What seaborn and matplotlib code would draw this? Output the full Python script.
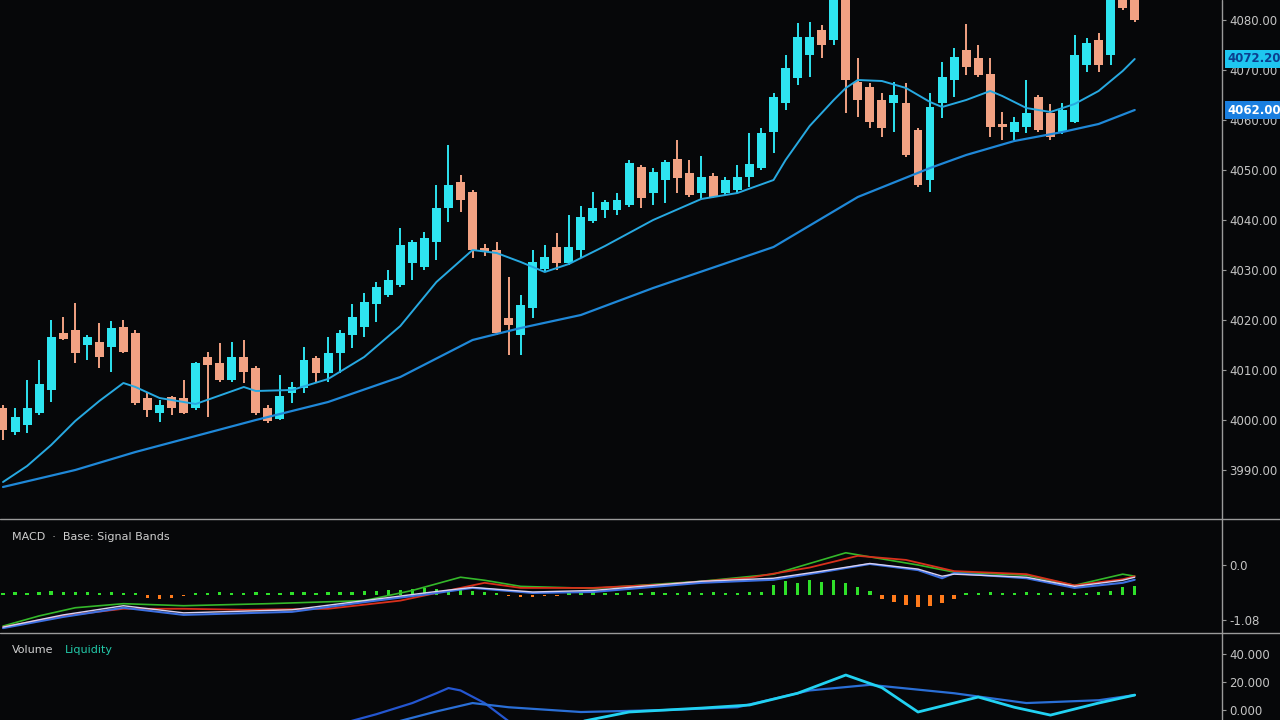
import numpy as np
import pandas as pd
import matplotlib
matplotlib.use("Agg")
import matplotlib.pyplot as plt
import seaborn as sns

# -------------------------------------------------------
# data
# -------------------------------------------------------

opens = [4002.4, 3997.6, 3999.0, 4001.4, 4006.0, 4017.4, 4018.0, 4015.0, 4015.6, 4014.6,
         4018.6, 4017.4, 4004.4, 4001.4, 4004.6, 4004.4, 4002.4, 4012.6, 4011.4, 4008.0,
         4012.6, 4010.4, 4002.4, 4000.2, 4005.4, 4006.4, 4012.4, 4009.4, 4013.4, 4017.0,
         4018.6, 4023.2, 4025.0, 4027.0, 4031.4, 4030.6, 4035.6, 4042.4, 4047.6, 4045.6,
         4034.4, 4034.0, 4020.4, 4017.0, 4022.4, 4030.2, 4034.6, 4031.4, 4034.0, 4039.8,
         4042.0, 4042.0, 4043.0, 4050.6, 4045.4, 4048.0, 4052.2, 4049.4, 4045.4, 4048.8,
         4045.4, 4046.0, 4048.6, 4050.4, 4057.6, 4063.4, 4068.4, 4073.0, 4078.0, 4076.0,
         4086.0, 4067.6, 4066.6, 4064.0, 4063.4, 4063.4, 4058.0, 4048.0, 4063.4, 4068.0,
         4074.0, 4072.4, 4069.2, 4059.0, 4057.6, 4058.6, 4064.6, 4061.4, 4057.6, 4059.6,
         4071.0, 4076.0, 4073.0, 4086.0, 4084.0]
closes = [3998.0, 4000.6, 4002.4, 4007.2, 4016.6, 4016.2, 4013.4, 4016.6, 4012.6, 4018.4,
          4013.6, 4003.4, 4002.0, 4003.0, 4002.4, 4001.4, 4011.4, 4011.0, 4008.0, 4012.6,
          4009.6, 4001.4, 3999.8, 4004.8, 4006.6, 4012.0, 4009.4, 4013.4, 4017.4, 4020.6,
          4023.6, 4026.6, 4028.0, 4035.0, 4035.6, 4036.4, 4042.4, 4047.0, 4044.0, 4034.0,
          4033.6, 4017.4, 4019.0, 4023.0, 4031.6, 4032.6, 4031.4, 4034.6, 4040.6, 4042.4,
          4043.6, 4044.0, 4051.4, 4044.4, 4049.6, 4051.6, 4048.4, 4045.0, 4048.6, 4044.6,
          4048.0, 4048.6, 4051.2, 4057.4, 4064.6, 4070.4, 4076.6, 4076.6, 4075.0, 4086.0,
          4068.0, 4064.0, 4059.6, 4058.4, 4065.0, 4053.0, 4047.0, 4062.6, 4068.6, 4072.6,
          4070.6, 4069.0, 4058.6, 4058.6, 4059.6, 4061.4, 4058.0, 4056.6, 4062.0, 4073.0,
          4075.4, 4071.0, 4085.0, 4082.4, 4080.0]
highs = [4003.0, 4002.4, 4008.0, 4012.0, 4020.0, 4020.6, 4023.4, 4017.0, 4019.4, 4019.8,
         4020.0, 4018.0, 4005.4, 4004.0, 4004.8, 4008.0, 4011.6, 4013.6, 4015.4, 4015.6,
         4016.0, 4010.8, 4003.0, 4009.0, 4007.6, 4014.6, 4012.8, 4016.6, 4018.0, 4023.2,
         4025.4, 4027.6, 4030.0, 4038.4, 4036.0, 4037.6, 4047.0, 4055.0, 4049.0, 4046.0,
         4035.2, 4035.6, 4028.6, 4025.0, 4034.0, 4035.0, 4037.4, 4041.0, 4042.8, 4045.6,
         4044.0, 4045.4, 4052.0, 4051.0, 4050.4, 4052.0, 4056.0, 4052.0, 4052.8, 4049.4,
         4048.6, 4051.0, 4057.4, 4058.4, 4065.4, 4073.0, 4079.4, 4079.6, 4079.0, 4088.0,
         4088.0, 4072.4, 4067.4, 4065.4, 4067.6, 4067.4, 4058.4, 4065.4, 4071.6, 4074.4,
         4079.2, 4075.0, 4072.4, 4061.6, 4060.6, 4068.0, 4065.0, 4063.2, 4063.4, 4077.0,
         4076.4, 4077.4, 4087.0, 4087.0, 4085.0]
lows = [3996.0, 3997.0, 3997.4, 4001.0, 4003.6, 4016.0, 4011.4, 4012.0, 4010.4, 4009.6,
        4013.4, 4003.0, 4000.6, 3999.6, 4001.0, 4001.2, 4002.0, 4000.6, 4007.6, 4007.6,
        4007.4, 4001.0, 3999.4, 4000.0, 4003.4, 4005.4, 4007.6, 4007.6, 4009.4, 4014.4,
        4016.6, 4019.6, 4024.6, 4026.6, 4028.0, 4030.0, 4032.0, 4039.6, 4041.6, 4032.4,
        4032.8, 4017.0, 4013.0, 4013.0, 4020.4, 4029.6, 4030.0, 4031.0, 4032.4, 4039.4,
        4040.4, 4041.0, 4042.6, 4042.4, 4043.0, 4043.4, 4045.4, 4044.6, 4044.0, 4044.4,
        4045.0, 4045.4, 4046.6, 4050.0, 4053.4, 4062.0, 4067.0, 4068.6, 4072.4, 4075.0,
        4061.4, 4060.6, 4058.4, 4056.6, 4057.6, 4052.6, 4046.6, 4045.6, 4060.4, 4064.6,
        4069.0, 4068.6, 4056.6, 4056.0, 4056.0, 4057.4, 4057.6, 4056.0, 4057.2, 4059.4,
        4069.6, 4069.6, 4071.0, 4082.0, 4079.6]

# moving averages as drawn on the chart
fast_idx = [0, 2, 4, 6, 8, 10, 11, 13, 16, 20, 21, 24, 27, 30, 33, 36, 39, 41, 43, 45,
            47, 50, 54, 58, 61, 64, 65, 67, 69, 70, 71, 73, 75, 77, 78, 80, 82, 83, 85, 87,
            89, 91, 93, 94]
fast_ma = [3987.6, 3990.8, 3995.0, 3999.8, 4003.8, 4007.4, 4006.6, 4004.4, 4003.2, 4006.6,
           4005.8, 4006.0, 4008.2, 4012.6, 4018.8, 4027.6, 4034.0, 4033.4, 4031.6, 4029.6,
           4031.2, 4034.8, 4040.0, 4044.2, 4045.4, 4048.0, 4052.0, 4058.8, 4064.0, 4066.4,
           4068.0, 4067.8, 4066.4, 4063.6, 4062.6, 4064.0, 4065.8, 4064.8, 4062.4, 4061.6,
           4063.2, 4065.8, 4069.8, 4072.2]
slow_idx = [0, 6, 11, 16, 21, 27, 33, 39, 43, 48, 54, 64, 71, 77, 80, 84, 88, 91, 94]
slow_ma = [3986.6, 3990.0, 3993.6, 3996.8, 4000.0, 4003.6, 4008.6, 4016.0, 4018.4, 4021.0,
           4026.4, 4034.6, 4044.6, 4050.4, 4053.0, 4055.8, 4057.6, 4059.2, 4062.0]

price_ticks = [3990, 4000, 4010, 4020, 4030, 4040, 4050, 4060, 4070, 4080]

# MACD panel
hist = [0.04, 0.06, 0.04, 0.06, 0.08, 0.06, 0.06, 0.06, 0.04, 0.06, 0.04,
        0.04,
        -0.06, -0.08, -0.06, -0.02,
        0.04, 0.04, 0.06, 0.04, 0.04, 0.06, 0.04, 0.04, 0.06, 0.06, 0.04, 0.06,
        0.06, 0.06, 0.08, 0.08, 0.10, 0.10, 0.12, 0.14, 0.12, 0.10,
        0.10, 0.08, 0.06, 0.04,
        -0.02, -0.04, -0.04, -0.02, -0.02,
        0.04, 0.04, 0.06, 0.04, 0.04, 0.06, 0.04, 0.06, 0.04, 0.04, 0.06, 0.04, 0.06,
        0.04, 0.04, 0.06, 0.06,
        0.20, 0.28, 0.24, 0.30, 0.26, 0.30, 0.24, 0.16, 0.08,
        -0.08, -0.14, -0.20, -0.24, -0.22, -0.16, -0.08,
        0.04, 0.04, 0.06, 0.04, 0.04, 0.06, 0.04, 0.04, 0.06, 0.04, 0.04, 0.06, 0.08,
        0.16, 0.18]
hist_base = -0.59

macd_idx = [0, 5, 10, 15, 24, 30, 36, 39, 44, 49, 58, 64, 68, 72, 76, 78, 79, 85, 89, 93, 94]
macd_blue = [-1.24, -1.02, -0.84, -0.98, -0.92, -0.73, -0.55, -0.45, -0.55, -0.53, -0.35,
             -0.29, -0.14, 0.02, -0.10, -0.26, -0.16, -0.26, -0.45, -0.35, -0.29]
macd_white = [-1.22, -0.98, -0.80, -0.94, -0.88, -0.70, -0.52, -0.44, -0.53, -0.50, -0.32,
              -0.26, -0.12, 0.03, -0.08, -0.22, -0.18, -0.24, -0.42, -0.30, -0.24]
red_idx = [0, 5, 10, 15, 20, 27, 33, 38, 40, 43, 49, 55, 62, 67, 71, 75, 79, 85, 89, 93, 94]
macd_red = [-1.22, -1.00, -0.86, -0.86, -0.88, -0.86, -0.70, -0.45, -0.35, -0.45, -0.45,
            -0.38, -0.25, -0.05, 0.18, 0.10, -0.12, -0.18, -0.40, -0.28, -0.22]
green_idx = [0, 3, 6, 10, 15, 22, 30, 34, 38, 40, 43, 49, 58, 64, 70, 72, 76, 79, 85, 89, 93, 94]
macd_green = [-1.20, -1.00, -0.84, -0.76, -0.80, -0.76, -0.70, -0.50, -0.24, -0.30, -0.42,
              -0.46, -0.32, -0.18, 0.24, 0.16, 0.00, -0.14, -0.20, -0.40, -0.18, -0.22]
macd_ticks = [0.0, -1.08]
macd_tick_labels = ["0.0", "-1.08"]

# lower panel
dark_idx = [28, 31, 34, 36, 37, 38, 40, 42, 43]
dark_line = [-10, -3, 5, 12, 15.7, 14, 5, -8, -15]
mid_idx = [32, 36, 39, 42, 48, 55, 61, 67, 72, 79, 85, 91, 94]
mid_line = [-10, -1, 5, 2, -1.4, 0, 2, 14, 18, 12, 5, 7, 10.7]
cyan_idx = [47, 52, 58, 62, 66, 70, 73, 76, 81, 84, 87, 91, 94]
cyan_line = [-10, -1.4, 1.4, 3.6, 12, 25, 16, -1.4, 9.3, 2, -3.6, 5, 10.7]
low_ticks = [40, 20, 0]

# -------------------------------------------------------
# style
# -------------------------------------------------------

BG = "#060709"
UP = "#2ee4f0"
DOWN = "#f2a283"
TICK = "#c4c4c4"
RULE = "#9a9a9a"

sns.set_theme(style="dark", rc={
    "axes.facecolor": BG,
    "figure.facecolor": BG,
    "axes.grid": False,
    "axes.edgecolor": BG,
})

fig = plt.figure(figsize=(12.8, 7.2), dpi=100)

W = 1222 / 1280
ax = fig.add_axes([0, 202 / 720, W, 518 / 720])
ax2 = fig.add_axes([0, 88 / 720, W, 112 / 720])
ax3 = fig.add_axes([0, 0, W, 87 / 720])

for a in (ax, ax2, ax3):
    a.set_xlim(-0.25, 101.25)
    a.set_xticks([])
    for s in a.spines.values():
        s.set_visible(False)
    a.yaxis.tick_right()
    a.tick_params(axis="y", right=True, length=3, width=0.8, color=RULE,
                  labelcolor=TICK, labelsize=8.5, pad=2)


# -------------------------------------------------------
# candles + moving averages
# -------------------------------------------------------

df = pd.DataFrame({"open": opens, "close": closes, "high": highs, "low": lows})
df["idx"] = np.arange(len(df))
colors = np.where(df["close"] >= df["open"], UP, DOWN)

ax.vlines(df["idx"], df["low"], df["high"], colors=colors, lw=1.4, zorder=2)
body_lo = df[["open", "close"]].min(axis=1)
body_h = (df["close"] - df["open"]).abs().clip(lower=0.6)
ax.bar(df["idx"], body_h, bottom=body_lo, width=0.74, color=colors, linewidth=0, zorder=2)

sns.lineplot(x=fast_idx, y=fast_ma, ax=ax, color="#27a9e1", lw=1.4, zorder=3)
sns.lineplot(x=slow_idx, y=slow_ma, ax=ax, color="#1f88d8", lw=1.6, zorder=3)

ax.set_ylim(4084 - 518 / 5, 4084)
ax.set_yticks(price_ticks)
ax.set_yticklabels([f"{t:.2f}" for t in price_ticks])

# last-value tags on the price scale
ax.annotate(f"{fast_ma[-1]:.2f}", xy=(1.0, fast_ma[-1]), xycoords=("axes fraction", "data"),
            xytext=(4, 0), textcoords="offset points", va="center", ha="left",
            fontsize=8.5, fontweight="bold", color="#0b3f8f", annotation_clip=False,
            bbox=dict(boxstyle="square,pad=0.25", fc="#1ec6f0", ec="none"))
ax.annotate(f"{slow_ma[-1]:.2f}", xy=(1.0, slow_ma[-1]), xycoords=("axes fraction", "data"),
            xytext=(4, 0), textcoords="offset points", va="center", ha="left",
            fontsize=8.5, fontweight="bold", color="white", annotation_clip=False,
            bbox=dict(boxstyle="square,pad=0.25", fc="#1a7fe0", ec="none"))


# -------------------------------------------------------
# MACD
# -------------------------------------------------------

hist_arr = np.array(hist)
ax2.bar(df["idx"], hist_arr, bottom=hist_base, width=0.28, linewidth=0,
        color=np.where(hist_arr >= 0, "#2fe02a", "#ff7b1c"), zorder=2)
sns.lineplot(x=green_idx, y=macd_green, ax=ax2, color="#34b82a", lw=1.2, zorder=3)
sns.lineplot(x=red_idx, y=macd_red, ax=ax2, color="#d8301c", lw=1.3, zorder=3)
sns.lineplot(x=macd_idx, y=macd_blue, ax=ax2, color="#3c6fe0", lw=1.5, zorder=4)
sns.lineplot(x=macd_idx, y=macd_white, ax=ax2, color="#d8d0f0", lw=1.0, zorder=4)

ax2.set_ylim((565 - 632) / 50.9, (565 - 520) / 50.9)
ax2.set_yticks(macd_ticks)
ax2.set_yticklabels(macd_tick_labels)
ax2.text(0.0098, 0.85, "MACD  ·  Base: Signal Bands", transform=ax2.transAxes,
         color="#cfcfcf", fontsize=8, va="center")


# -------------------------------------------------------
# lower panel
# -------------------------------------------------------

sns.lineplot(x=dark_idx, y=dark_line, ax=ax3, color="#2456d0", lw=1.6)
sns.lineplot(x=mid_idx, y=mid_line, ax=ax3, color="#2a6fd6", lw=1.6)
sns.lineplot(x=cyan_idx, y=cyan_line, ax=ax3, color="#22d2f2", lw=2.0)

ax3.set_ylim(-7.1, 55)
ax3.set_yticks(low_ticks)
ax3.set_yticklabels([f"{t:.3f}" for t in low_ticks])
ax3.text(0.0098, 0.80, "Volume", transform=ax3.transAxes, color="#cfcfcf",
         fontsize=8, va="center")
ax3.text(0.053, 0.80, "Liquidity", transform=ax3.transAxes, color="#22c8a8",
         fontsize=8, va="center")

for a in (ax, ax2, ax3):
    a.set_xlim(-0.25, 101.25)
    a.set_xlabel("")
    a.set_ylabel("")
    if a.get_legend():
        a.get_legend().remove()

# panel rules
fig.add_artist(plt.Line2D([0, 1], [201 / 720, 201 / 720], transform=fig.transFigure,
                          color=RULE, lw=1))
fig.add_artist(plt.Line2D([0, 1], [87.5 / 720, 87.5 / 720], transform=fig.transFigure,
                          color=RULE, lw=1))
fig.add_artist(plt.Line2D([W, W], [0, 1], transform=fig.transFigure, color=RULE, lw=1))

fig.savefig("out.png", dpi=100, facecolor=BG)
